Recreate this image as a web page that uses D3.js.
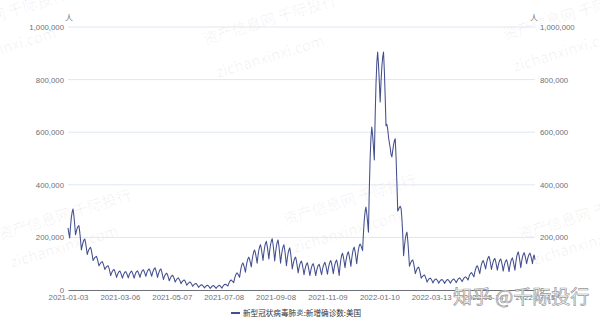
<!DOCTYPE html>
<html>
<head>
<meta charset="utf-8">
<script src="https://cdn.jsdelivr.net/npm/d3@7"></script>
<style>
body { margin: 0; background: #fff; }
svg { display: block; font-family: "Liberation Sans", Arial, sans-serif; }
</style>
</head>
<body>
<script>
var width = 600;
var height = 322;

var startDate = "2021-01-03";
var tickLabels = ["2021-01-03", "2021-03-06", "2021-05-07", "2021-07-08", "2021-09-08",
    "2021-11-09", "2022-01-10", "2022-03-13", "2022-05-14", "2022-07-15"];
var yTicks = [0, 200000, 400000, 600000, 800000, 1000000];
var unitLabel = "人";
var seriesName = "新型冠状病毒肺炎:新增确诊数:美国";

// daily new cases, thousands of people
var newCases = [
    236, 215,
    198, 242, 275, 297, 308, 284, 249,
    210, 224, 235, 242, 245, 222, 189,
    152, 169, 181, 190, 194, 179, 159,
    135, 146, 154, 159, 162, 150, 132,
    112, 118, 123, 126, 128, 119, 106,
    92, 98, 103, 106, 108, 100, 90,
    78, 84, 88, 91, 92, 83, 70,
    55, 64, 71, 76, 78, 71, 60,
    48, 58, 65, 70, 72, 65, 56,
    45, 55, 63, 68, 70, 64, 56,
    46, 56, 64, 69, 72, 65, 56,
    45, 56, 65, 70, 73, 67, 58,
    48, 60, 68, 74, 77, 71, 62,
    52, 63, 72, 77, 80, 73, 63,
    52, 65, 74, 81, 84, 75, 62,
    48, 61, 70, 77, 80, 70, 56,
    40, 50, 57, 62, 64, 57, 47,
    35, 43, 50, 54, 56, 50, 43,
    30, 36, 41, 44, 46, 40, 34,
    24, 30, 34, 37, 38, 33, 26,
    18, 23, 26, 29, 30, 26, 21,
    14, 18, 22, 24, 25, 21, 16,
    10, 14, 17, 19, 20, 17, 13,
    8, 12, 15, 17, 18, 15, 11,
    6, 10, 14, 16, 17, 14, 10,
    6, 11, 14, 17, 18, 15, 11,
    7, 13, 18, 21, 22, 20, 18,
    15, 24, 31, 36, 38, 35, 32,
    28, 43, 54, 61, 65, 61, 55,
    48, 70, 87, 98, 103, 94, 82,
    68, 91, 108, 119, 125, 116, 103,
    88, 114, 133, 146, 152, 140, 122,
    102, 130, 151, 165, 172, 157, 136,
    112, 141, 163, 178, 185, 168, 145,
    118, 149, 172, 187, 195, 174, 144,
    110, 142, 166, 182, 190, 168, 137,
    102, 130, 151, 165, 172, 152, 124,
    92, 119, 140, 153, 160, 140, 112,
    80, 98, 112, 121, 125, 110, 89,
    65, 83, 97, 106, 110, 97, 79,
    58, 76, 90, 99, 103, 91, 74,
    55, 73, 87, 96, 100, 89, 73,
    55, 72, 85, 94, 98, 88, 72,
    58, 77, 91, 100, 105, 94, 78,
    60, 81, 96, 107, 112, 100, 82,
    62, 83, 98, 109, 114, 99, 79,
    55, 89, 115, 132, 140, 126, 107,
    85, 109, 127, 139, 145, 131, 112,
    90, 119, 141, 156, 163, 147, 125,
    100, 130, 153, 168, 175, 169, 160,
    150, 216, 266, 299, 315, 291, 258,
    220, 380, 500, 580, 620, 588, 544,
    494, 658, 782, 864, 905, 858, 791,
    715, 791, 848, 886, 905, 834, 734,
    625, 630, 612, 580, 560, 540, 515,
    506, 530, 552, 568, 575, 504, 404,
    300, 306, 315, 318, 310, 270, 210,
    130, 166, 193, 211, 220, 188, 142,
    90, 100, 107, 112, 114, 101, 83,
    62, 72, 80, 85, 87, 77, 62,
    45, 50, 53, 56, 57, 50, 41,
    30, 36, 41, 44, 45, 41, 35,
    27, 33, 38, 41, 42, 38, 33,
    26, 32, 36, 39, 40, 36, 31,
    25, 31, 36, 39, 40, 36, 31,
    26, 32, 37, 40, 42, 38, 33,
    28, 35, 41, 44, 46, 42, 37,
    32, 39, 45, 48, 50, 47, 43,
    38, 49, 58, 63, 66, 62, 56,
    50, 67, 79, 88, 92, 85, 74,
    62, 82, 97, 107, 112, 104, 93,
    80, 99, 114, 123, 128, 116, 98,
    78, 95, 107, 116, 120, 109, 93,
    75, 92, 105, 114, 118, 107, 92,
    72, 89, 102, 111, 115, 104, 88,
    70, 91, 106, 117, 122, 110, 93,
    75, 103, 124, 138, 145, 130, 109,
    85, 108, 125, 136, 142, 132, 117,
    100, 116, 128, 136, 140, 130, 116,
    100, 125, 133, 115
];

var watermarks = [
    { text: "资产信息网 千际投行", x: -65, y: 40 },
    { text: "zichanxinxi.com", x: -50, y: 70 },
    { text: "资产信息网 千际投行", x: 205, y: 45 },
    { text: "zichanxinxi.com", x: 218, y: 78 },
    { text: "资产信息网 千际投行", x: 505, y: 40 },
    { text: "zichanxinxi.com", x: 515, y: 72 },
    { text: "资产信息网 千际投行", x: 0, y: 240 },
    { text: "zichanxinxi.com", x: 12, y: 268 },
    { text: "资产信息网 千际投行", x: 285, y: 225 },
    { text: "zichanxinxi.com", x: 295, y: 253 },
    { text: "资产信息网 千际投行", x: 520, y: 240 },
    { text: "zichanxinxi.com", x: 535, y: 265 }
];

var parseDate = d3.timeParse("%Y-%m-%d");
var formatDate = d3.timeFormat("%Y-%m-%d");
var dates = newCases.map(function(d, i) {
    return formatDate(d3.timeDay.offset(parseDate(startDate), i));
});

var plotLeft = 68, plotRight = 535, plotTop = 27, plotBottom = 290;

var svg = d3.select("body")
    .append("svg")
    .attr("width", width)
    .attr("height", height);

var x = d3.scalePoint().domain(dates).range([plotLeft, plotRight]);
var y = d3.scaleLinear().domain([0, 1000000]).range([plotBottom, plotTop]);

// watermark behind the chart
svg.append("g")
    .selectAll("text")
    .data(watermarks)
    .enter()
    .append("text")
    .attr("transform", function(d) { return "translate(" + d.x + "," + d.y + ") rotate(-17)"; })
    .attr("font-family", "'Noto Sans CJK SC', sans-serif")
    .attr("font-size", "15px")
    .attr("fill", "rgba(0,0,0,0.06)")
    .text(function(d) { return d.text; });

svg.append("g")
    .selectAll("line")
    .data(yTicks.slice(1))
    .enter()
    .append("line")
    .attr("x1", plotLeft)
    .attr("x2", plotRight)
    .attr("y1", function(d) { return y(d); })
    .attr("y2", function(d) { return y(d); })
    .attr("stroke", "#E0E6F1")
    .attr("stroke-width", 1);

var yLeft = svg.append("g")
    .attr("transform", "translate(" + plotLeft + ",0)")
    .call(d3.axisLeft(y).tickValues(yTicks).tickFormat(d3.format(",")).tickSize(0).tickPadding(4));
var yRight = svg.append("g")
    .attr("transform", "translate(" + plotRight + ",0)")
    .call(d3.axisRight(y).tickValues(yTicks).tickFormat(d3.format(",")).tickSize(0).tickPadding(5));
[yLeft, yRight].forEach(function(g) {
    g.select(".domain").remove();
    g.selectAll("text")
        .attr("fill", "#6E7079")
        .attr("font-size", "7.8px")
        .attr("font-family", "'Liberation Sans', Arial, sans-serif");
});

var xAxis = svg.append("g")
    .attr("transform", "translate(0," + plotBottom + ")")
    .call(d3.axisBottom(x).tickValues(tickLabels).tickSize(0).tickPadding(4));
xAxis.select(".domain")
    .attr("stroke", "#6E7079")
    .attr("stroke-width", 1.2);
xAxis.selectAll("text")
    .attr("fill", "#6E7079")
    .attr("font-size", "7.8px")
    .attr("font-family", "'Liberation Sans', Arial, sans-serif");

svg.selectAll(".unit")
    .data([plotLeft + 1, plotRight - 1])
    .enter()
    .append("text")
    .attr("class", "unit")
    .attr("x", function(d) { return d; })
    .attr("y", 21)
    .attr("text-anchor", "middle")
    .attr("font-family", "'Noto Sans CJK SC', sans-serif")
    .attr("font-size", "8px")
    .attr("fill", "#6E7079")
    .text(unitLabel);

var line = d3.line()
    .x(function(d, i) { return x(dates[i]); })
    .y(function(d) { return y(d * 1000); });

svg.append("path")
    .datum(newCases)
    .attr("d", line)
    .attr("fill", "none")
    .attr("stroke", "#434e8e")
    .attr("stroke-width", 1.05)
    .attr("stroke-linejoin", "round");

// legend
svg.append("line")
    .attr("x1", 231)
    .attr("x2", 240)
    .attr("y1", 313)
    .attr("y2", 313)
    .attr("stroke", "#434e8e")
    .attr("stroke-width", 2);
svg.append("text")
    .attr("x", 243)
    .attr("y", 316)
    .attr("font-family", "'Noto Sans CJK SC', sans-serif")
    .attr("font-size", "7.6px")
    .attr("fill", "#333")
    .text(seriesName);

// zhihu mark
svg.append("text")
    .attr("x", 453)
    .attr("y", 304)
    .attr("font-family", "'Noto Sans CJK SC', sans-serif")
    .attr("font-size", "19px")
    .attr("fill", "#fff")
    .attr("stroke", "#999")
    .attr("stroke-width", 0.7)
    .text("知乎 @千际投行");
</script>
</body>
</html>
